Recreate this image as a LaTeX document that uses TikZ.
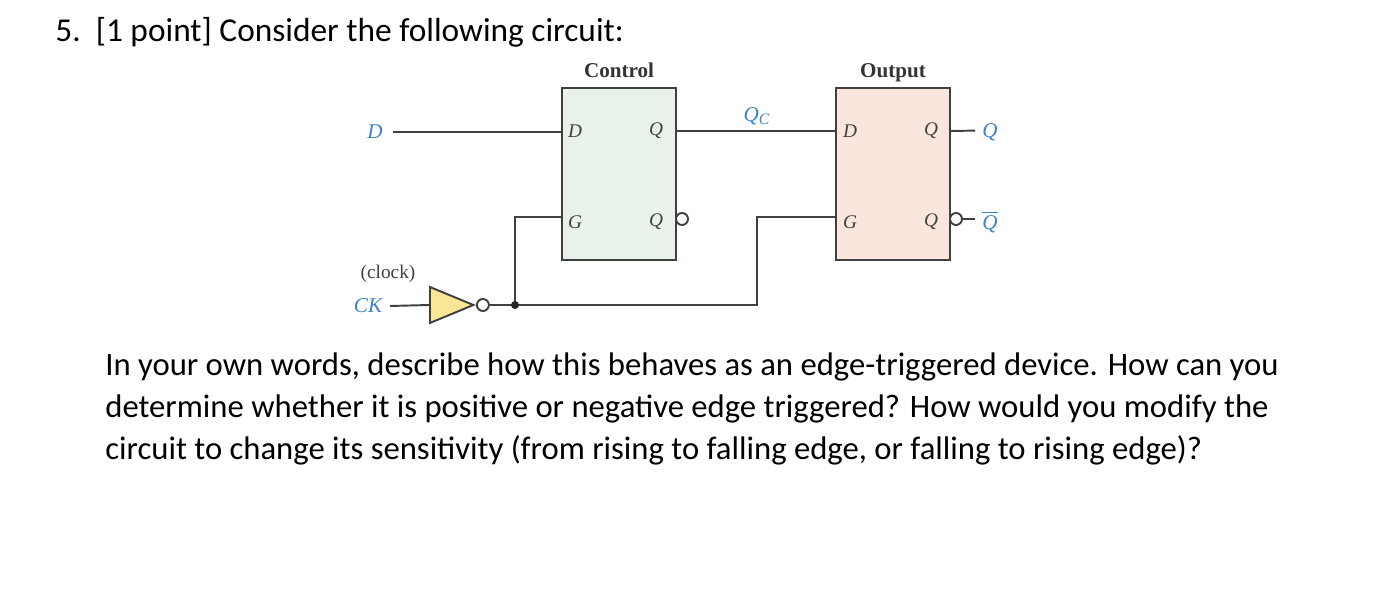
\documentclass[tikz,border=0pt]{standalone}
\usepackage{fontspec}
\setmainfont{Carlito}
\newfontfamily\circfont{Liberation Serif}
\usetikzlibrary{positioning,shapes.geometric}
\definecolor{pinblue}{RGB}{60,130,200}
\definecolor{ctrlfill}{RGB}{232,242,232}
\definecolor{outfill}{RGB}{250,230,220}
\definecolor{bufyellow}{RGB}{250,230,150}
\tikzset{
	latch/.style={draw=black!75, line width=1.1pt, minimum width=2.28cm, minimum height=3.44cm, inner sep=0pt},
	pin/.style={font=\circfont\itshape\fontsize{11}{13}\selectfont, text=black!75, inner sep=1pt},
	sig/.style={font=\circfont\itshape\fontsize{12}{14}\selectfont, text=pinblue, inner sep=1pt},
	title/.style={font=\circfont\bfseries\fontsize{12}{14}\selectfont, text=black!80, anchor=base},
	wire/.style={draw=black!75, line width=1.1pt},
	bub/.style={circle, draw=black!75, line width=1.1pt, fill=white, minimum size=0.24cm, inner sep=0pt},
	body/.style={font=\fontsize{18.6}{22}\selectfont, anchor=base west, inner sep=0pt}
}
\begin{document}
\begin{tikzpicture}[x=0.02cm, y=-0.02cm]
	\useasboundingbox (0,0) rectangle (1386,590);
	\node[body, font=\fontsize{19}{22}\selectfont] (title) at (55,42) {5.\ \ [1 point] Consider the following circuit:};
	% latches
	\node[latch, fill=ctrlfill] (C) at (619,174) {};
	\node[latch, fill=outfill] (O) at (893,174) {};
	\node[title] (Cl) at (619,78) {Control};
	\node[title] (Ol) at (893,78) {Output};
	% pins
	\node[pin] (CD) at (575,131) {D};
	\node[pin] (CQ) at (656,131) {Q};
	\node[pin] (CG) at (575,222) {G};
	\node[pin] (CN) at (656,222) {Q};
	\node[pin] (OD) at (850,131) {D};
	\node[pin] (OQ) at (931,131) {Q};
	\node[pin] (OG) at (850,222) {G};
	\node[pin] (ON) at (931,222) {Q};
	% bubbles
	\node[bub] (Cb) at (682,219) {};
	\node[bub] (Ob) at (956,219) {};
	% signals
	\node[sig] (Din) at (375,132) {D};
	\node[sig] (Qc) at (757,116) {Q\textsubscript{\fontsize{9}{10}\selectfont C}};
	\node[sig] (Qout) at (990,132) {Q};
	\node[sig] (Qbar) at (990,222) {$\overline{\mbox{Q}}$};
	\node[font=\circfont\fontsize{11}{13}\selectfont, text=black!75] (clk) at (388,274) {(clock)};
	\node[sig] (CK) at (368,306) {CK};
	% inverter
	\node[isosceles triangle, draw=black!75, line width=1.1pt, fill=bufyellow, minimum height=0.72cm, minimum width=0.72cm, inner sep=0pt, anchor=west] (inv) at (429,305) {};
	\node[bub, right=0pt of inv.apex] (ib) {};
	\coordinate (j) at (515,305);
	% wires
	\draw[wire] (Din.east) ++(8,0) coordinate (d0) -- (d0 -| C.west);
	\draw[wire] (C.east |- CQ) -- (O.west |- CQ);
	\draw[wire] (O.east |- OQ) -- (975,130.6);
	\draw[wire] (Ob.east) -- (975,219);
	\draw[wire] (CK.east) ++(6,0) coordinate (k0) -- (inv.west);
	\draw[wire] (ib.east) -- (757,305) -- (757,217) -- (O.west |- 0,217);
	\draw[wire] (j) -- (515,217) -- (C.west |- 0,217);
	\fill[black!85] (j) circle (4);
	% question text
	\node[body] (p1) at (105,376) {In your own words, describe how this behaves as an edge-triggered device. How can you};
	\node[body] (p2) at (105,418) {determine whether it is positive or negative edge triggered? How would you modify the};
	\node[body] (p3) at (105,460) {circuit to change its sensitivity (from rising to falling edge, or falling to rising edge)?};
\end{tikzpicture}
\end{document}
